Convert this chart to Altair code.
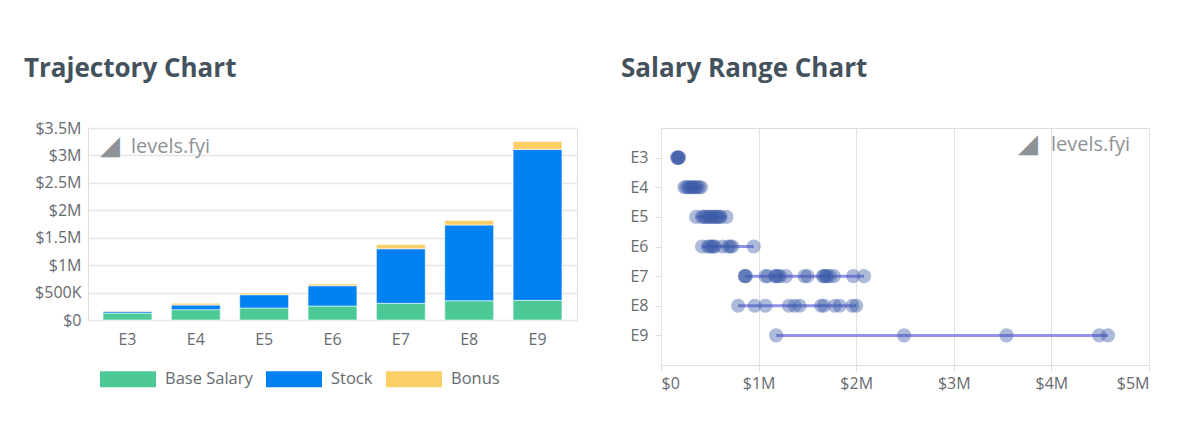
import altair as alt
import pandas as pd

# ---------------- data ----------------
levels = ["E3", "E4", "E5", "E6", "E7", "E8", "E9"]
base_salary = [127000, 188000, 219000, 255000, 304000, 352000, 358000]
stock = [31000, 85000, 242000, 370000, 995000, 1380000, 2750000]
bonus = [12000, 31000, 30000, 31000, 79000, 83000, 146000]
components = ["Base Salary", "Stock", "Bonus"]
comp_colors = ["#4cc997", "#0181f2", "#fdcf69"]
y_ticks = [0, 500000, 1000000, 1500000, 2000000, 2500000, 3000000, 3500000]

range_points = {
    "E3": [165000, 170000, 175000, 180000, 185000],
    "E4": [240000, 260000, 280000, 300000, 310000, 330000, 350000, 370000, 390000, 410000],
    "E5": [360000, 420000, 440000, 460000, 480000, 500000, 520000, 540000, 560000,
           580000, 600000, 610000, 670000],
    "E6": [420000, 480000, 500000, 520000, 540000, 550000, 630000, 690000, 710000,
           730000, 950000],
    "E7": [860000, 860000, 870000, 1070000, 1090000, 1170000, 1180000, 1200000, 1220000,
           1280000, 1470000, 1500000, 1660000, 1670000, 1690000, 1700000, 1730000,
           1770000, 1970000, 2080000],
    "E8": [790000, 960000, 1070000, 1310000, 1370000, 1420000, 1640000, 1670000,
           1780000, 1830000, 1960000, 2000000],
    "E9": [1180000, 2490000, 3540000, 4490000, 4580000],
}
x_ticks = [0, 1000000, 2000000, 3000000, 4000000, 5000000]

FONT = "Open Sans"
TITLE_COLOR = "#43525c"
LABEL_COLOR = "#666b70"

# ---------------- tables ----------------
rows = []
for i, lv in enumerate(levels):
    for j, (comp, vals) in enumerate(zip(components, [base_salary, stock, bonus])):
        rows.append({"level": lv, "component": comp, "value": vals[i], "order": j})
bars_df = pd.DataFrame(rows)

pts = []
for lv in levels:
    for v in range_points[lv]:
        pts.append({"level": lv, "value": v})
pts_df = pd.DataFrame(pts)

money_expr = ("datum.value == 0 ? '$0' : (datum.value < 1000000 ? '$' + (datum.value/1000) + 'K'"
              " : '$' + (datum.value/1000000) + 'M')")

rect_path = "M-1,-0.29L1,-0.29L1,0.29L-1,0.29Z"

# ---------------- trajectory chart ----------------
bars = alt.Chart(bars_df).mark_bar(stroke="white", strokeWidth=0.8, strokeOpacity=0.7).encode(
    x=alt.X("level:N", sort=levels, title=None,
            scale=alt.Scale(paddingInner=0.285, paddingOuter=0.22),
            axis=alt.Axis(labelAngle=0, ticks=False, domain=False, labelPadding=11,
                          labelFont=FONT, labelFontSize=16, labelColor=LABEL_COLOR)),
    y=alt.Y("value:Q", stack="zero", title=None,
            scale=alt.Scale(domain=[0, 3500000], nice=False),
            axis=alt.Axis(values=y_ticks, labelExpr=money_expr, ticks=False, domain=False,
                          labelPadding=7, gridColor="#e6e6e6", gridWidth=1.5,
                          labelFont=FONT, labelFontSize=16, labelColor=LABEL_COLOR)),
    color=alt.Color("component:N", sort=components,
                    scale=alt.Scale(domain=components, range=comp_colors),
                    legend=alt.Legend(title=None, orient="none", direction="horizontal",
                                      legendX=12, legendY=223, padding=0,
                                      symbolType=rect_path, symbolSize=3136,
                                      symbolStrokeWidth=0, symbolOpacity=1,
                                      labelOffset=9, columnPadding=13,
                                      labelFont=FONT, labelFontSize=16.5,
                                      labelColor=LABEL_COLOR)),
    order=alt.Order("order:Q"),
)

wm_df = pd.DataFrame({"t": ["levels.fyi"], "icon": ["\u25e2"]})
wm_left_text = alt.Chart(wm_df).mark_text(align="left", baseline="middle", font=FONT,
                                          fontSize=20, color="#8d9296").encode(
    x=alt.value(43), y=alt.value(19), text="t:N")
wm_left_icon = alt.Chart(wm_df).mark_text(align="left", baseline="middle", font="DejaVu Sans",
                                          fontSize=26, color="#8d9296").encode(
    x=alt.value(12), y=alt.value(18), text="icon:N")

left = alt.layer(bars, wm_left_icon, wm_left_text).properties(
    width=489, height=192,
    title=alt.TitleParams("Trajectory Chart", anchor="start", frame="group", dx=-64,
                          offset=38, font=FONT, fontSize=26, fontWeight="bold",
                          color=TITLE_COLOR),
)

# ---------------- salary range chart ----------------
rule = alt.Chart(pts_df).mark_rule(color="#9292e8", strokeWidth=3).encode(
    y=alt.Y("level:N", sort=levels),
    x=alt.X("min(value):Q"),
    x2=alt.X2("max(value):Q"),
)
dots = alt.Chart(pts_df).mark_circle(size=200, color="#3b5aa6", opacity=0.42).encode(
    y=alt.Y("level:N", sort=levels, title=None,
            scale=alt.Scale(type="point", padding=1),
            axis=alt.Axis(tickSize=6, tickColor="#dddddd", domain=False, labelPadding=7,
                          gridColor="#e2e2e2", labelFont=FONT, labelFontSize=16,
                          labelColor=LABEL_COLOR)),
    x=alt.X("value:Q", title=None, scale=alt.Scale(domain=[0, 5000000], nice=False),
            axis=alt.Axis(values=x_ticks, labelExpr=money_expr, tickSize=6,
                          tickColor="#dddddd", domain=False, labelPadding=4,
                          gridColor="#e2e2e2", labelFont=FONT, labelFontSize=16,
                          labelColor=LABEL_COLOR)),
)
wm_right_text = alt.Chart(wm_df).mark_text(align="left", baseline="middle", font=FONT,
                                           fontSize=20, color="#8d9296").encode(
    x=alt.value(390), y=alt.value(17), text="t:N")
wm_right_icon = alt.Chart(wm_df).mark_text(align="left", baseline="middle", font="DejaVu Sans",
                                           fontSize=26, color="#8d9296").encode(
    x=alt.value(357), y=alt.value(16), text="icon:N")

right = alt.layer(rule, dots, wm_right_icon, wm_right_text).properties(
    width=488, height=237,
    title=alt.TitleParams("Salary Range Chart", anchor="start", frame="group", dx=-40,
                          offset=46, font=FONT, fontSize=26, fontWeight="bold",
                          color=TITLE_COLOR),
)

chart = alt.hconcat(left, right, spacing=42).properties(
    padding={"left": 15, "top": 47, "right": 0, "bottom": 0}
).configure_view(stroke="#e2e2e2").configure(background="white")

chart.save("out.html", embed_options={"renderer": "svg", "actions": False})
